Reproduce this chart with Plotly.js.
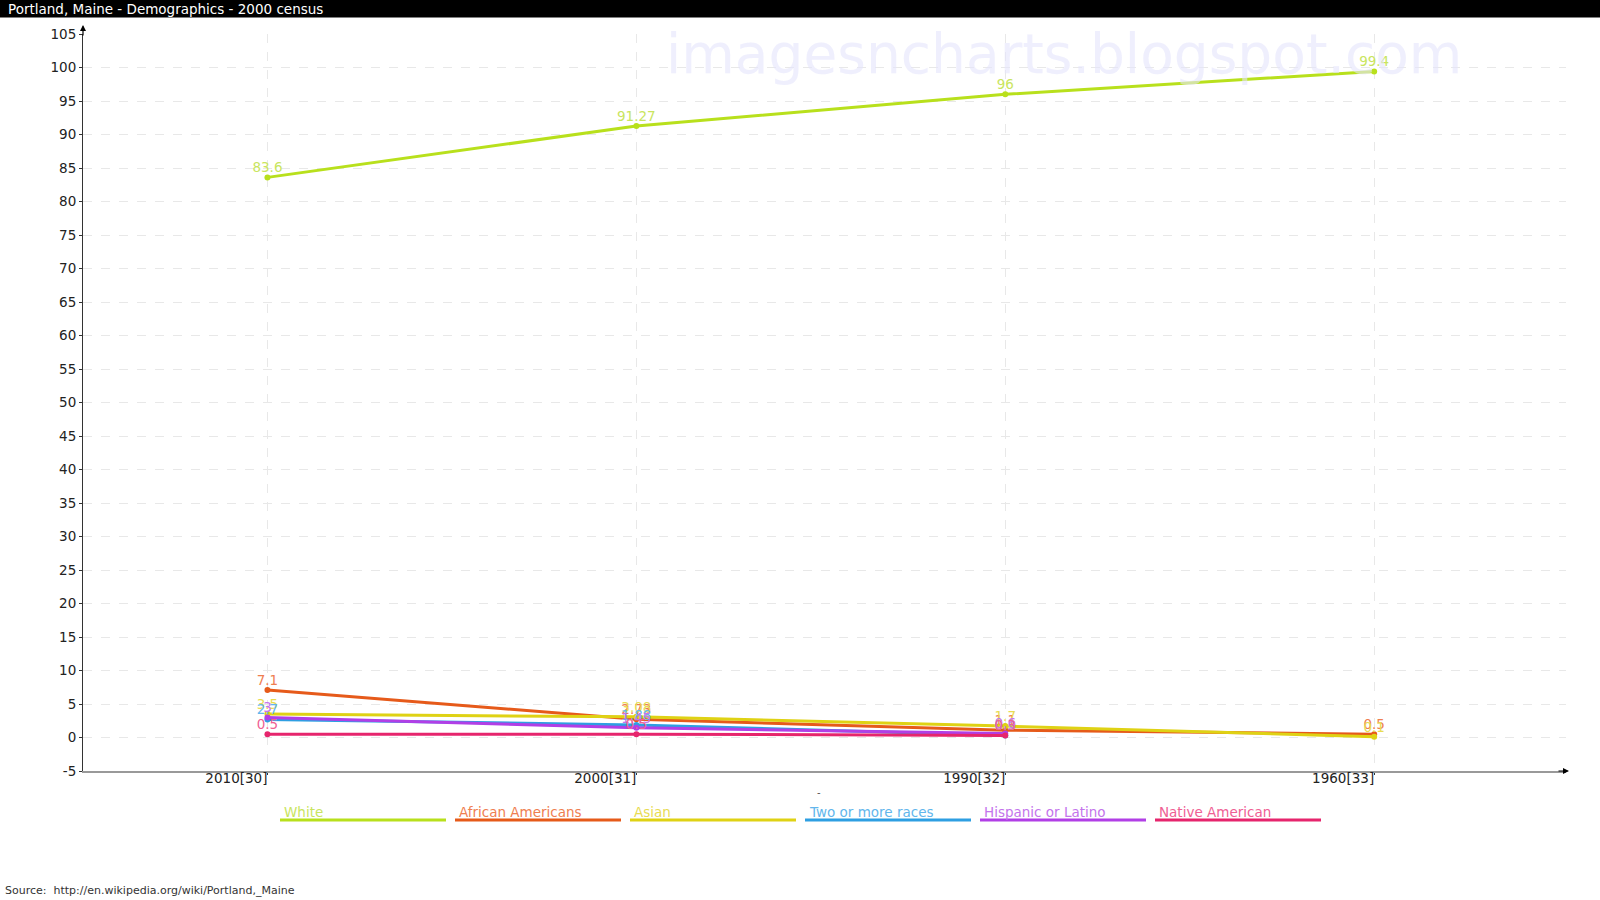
<!DOCTYPE html>
<html>
<head>
<meta charset="utf-8">
<script src="https://cdn.plot.ly/plotly-3.0.1.min.js"></script>
<style>
html,body{margin:0;padding:0;background:#fff;}
#chart{width:1600px;height:900px;}
</style>
</head>
<body>
<div id="chart"></div>
<script>
// ---- data ----
const categories = ["2010[30]", "2000[31]", "1990[32]", "1960[33]"];
const seriesNames = ["White", "African Americans", "Asian", "Two or more races", "Hispanic or Latino", "Native American"];
const white = [83.6, 91.27, 96, 99.4];
const africanAmericans = [7.1, 2.73, 1.1, 0.5];
const asian = [3.5, 3.08, 1.7, 0.1];
const twoOrMore = [2.7, 1.88, 0.3, null];
const hispanic = [3.0, 1.45, 0.6, null];
const nativeAmerican = [0.5, 0.5, 0.3, null];
const yTicks = [-5,0,5,10,15,20,25,30,35,40,45,50,55,60,65,70,75,80,85,90,95,100,105];

const seriesValues = [white, africanAmericans, asian, twoOrMore, hispanic, nativeAmerican];
const lineColors = ["#b8e01c", "#e65a1a", "#dfd214", "#2e9fe2", "#b13fe6", "#e6256d"];
const textColors = ["#c9e55e", "#ef7e50", "#e8dc52", "#62b6ec", "#c474ec", "#ef6094"];

const font = "DejaVu Sans, Verdana, sans-serif";
const L = 83, R = 34, T = 34, B = 129, W = 1600, H = 900;
const PW = W - L - R;
const px2paperX = p => (p - L) / PW;
const px2paperY = p => (H - B - p) / (H - T - B);

const traces = seriesValues.map((vals, i) => ({
  type: "scatter",
  mode: "lines+markers+text",
  name: seriesNames[i],
  x: categories,
  y: vals,
  text: vals.map(v => v === null ? "" : String(v)),
  textposition: "top center",
  textfont: {family: font, size: 13.5, color: textColors[i]},
  line: {color: lineColors[i], width: 3},
  marker: {color: lineColors[i], size: 6},
  connectgaps: false,
  cliponaxis: false,
  showlegend: false
}));

const annotations = [];
const shapes = [];

// title bar
shapes.push({type: "rect", xref: "paper", yref: "paper",
  x0: px2paperX(0), x1: px2paperX(W), y0: px2paperY(17.5), y1: px2paperY(0),
  fillcolor: "#000", line: {width: 0}, layer: "above"});
annotations.push({xref: "paper", yref: "paper", x: px2paperX(6), y: px2paperY(9),
  xanchor: "left", yanchor: "middle", showarrow: false,
  text: "Portland, Maine - Demographics - 2000 census",
  font: {family: font, size: 13.5, color: "#fff"}});

// watermark
annotations.push({xref: "paper", yref: "paper", x: px2paperX(1064), y: px2paperY(54),
  xanchor: "center", yanchor: "middle", showarrow: false,
  text: "imagesncharts.blogspot.com",
  font: {family: font, size: 55, color: "rgba(228,228,252,0.6)"}});

// legend built from series
seriesNames.forEach((name, i) => {
  const x0 = 280 + i * 175;
  shapes.push({type: "line", xref: "paper", yref: "paper",
    x0: px2paperX(x0), x1: px2paperX(x0 + 166), y0: px2paperY(820), y1: px2paperY(820),
    line: {color: lineColors[i], width: 3}});
  annotations.push({xref: "paper", yref: "paper", x: px2paperX(x0 + 2), y: px2paperY(812),
    xanchor: "left", yanchor: "middle", showarrow: false, text: name,
    font: {family: font, size: 13.5, color: textColors[i]}});
});

// source
annotations.push({xref: "paper", yref: "paper", x: px2paperX(3), y: px2paperY(890),
  xanchor: "left", yanchor: "middle", showarrow: false,
  text: "Source:  http://en.wikipedia.org/wiki/Portland,_Maine",
  font: {family: font, size: 11, color: "#333"}});

// small axis title dash
annotations.push({xref: "paper", yref: "paper", x: px2paperX(819), y: px2paperY(792),
  xanchor: "center", yanchor: "middle", showarrow: false, text: "-",
  font: {family: font, size: 10, color: "#555"}});

// axis arrows
annotations.push({xref: "paper", yref: "paper", x: 0, y: px2paperY(25),
  ax: 0, ay: 12, showarrow: true, arrowhead: 2, arrowsize: 1, arrowwidth: 1.2, arrowcolor: "#000", text: ""});
annotations.push({xref: "paper", yref: "paper", x: px2paperX(1569), y: 0,
  ax: -12, ay: 0, showarrow: true, arrowhead: 2, arrowsize: 1, arrowwidth: 1.2, arrowcolor: "#000", text: ""});

const layout = {
  width: W, height: H,
  margin: {l: L, r: R, t: T, b: B},
  paper_bgcolor: "#fff", plot_bgcolor: "#fff",
  showlegend: false,
  xaxis: {
    type: "category", categoryorder: "array", categoryarray: categories,
    range: [-0.5, 3.52],
    showgrid: true, gridcolor: "#e8e8e8", griddash: "dash", gridwidth: 1,
    showline: true, linecolor: "#999", linewidth: 2,
    ticks: "outside", ticklen: 2, tickcolor: "#333",
    tickfont: {family: font, size: 13.5, color: "#222"},
    zeroline: false
  },
  yaxis: {
    range: [-5, 105], tickvals: yTicks, ticktext: yTicks.map(String),
    showgrid: true, gridcolor: "#e8e8e8", griddash: "dash", gridwidth: 1,
    showline: true, linecolor: "#333", linewidth: 1,
    ticks: "outside", ticklen: 3, tickcolor: "#333",
    tickfont: {family: font, size: 13.5, color: "#222"},
    zeroline: false
  },
  shapes: shapes,
  annotations: annotations
};

Plotly.newPlot("chart", traces, layout, {displayModeBar: false, staticPlot: true}).then(() => {
  // right-align category labels so they end at the tick, close to the axis
  document.querySelectorAll(".xtick text").forEach(t => {
    t.setAttribute("text-anchor", "end");
    const tr = t.getAttribute("transform") || "";
    t.setAttribute("transform", tr + " translate(0,-8)");
  });
  // bring point labels slightly closer to their markers
  document.querySelectorAll(".scatterlayer .textpoint text").forEach(t => {
    const tr = t.getAttribute("transform") || "";
    t.setAttribute("transform", tr + " translate(0,3)");
  });
});
</script>
</body>
</html>
